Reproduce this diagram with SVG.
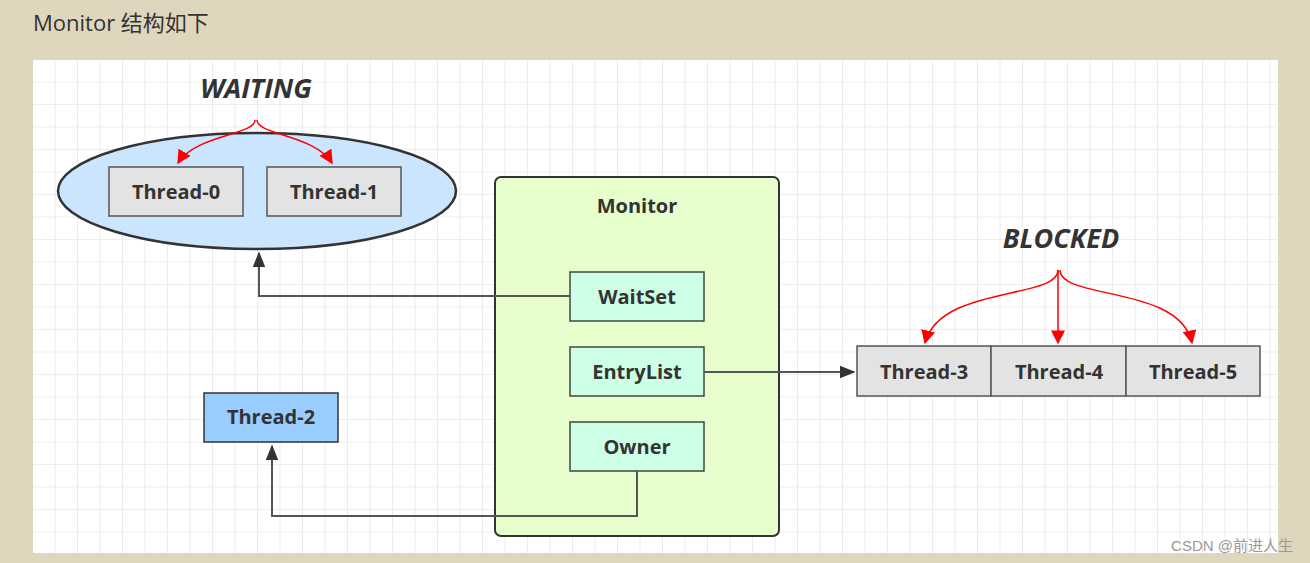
<svg xmlns="http://www.w3.org/2000/svg" width="1310" height="563" viewBox="0 0 1310 563">
<style>
.t{font-family:"Open Sans","Liberation Sans",sans-serif;font-weight:bold;font-size:20px;fill:#333;text-anchor:middle}
.s{font-family:"Open Sans","Liberation Sans",sans-serif;font-weight:bold;font-style:italic;font-size:27px;fill:#333;text-anchor:middle}
.box{fill:#e3e3e3;stroke:#555;stroke-width:1.5}
.in{fill:#ccffe6;stroke:#444;stroke-width:1.5}
.red{fill:none;stroke:#f00;stroke-width:1.5}
.blk{fill:none;stroke:#555;stroke-width:2}
</style>
<defs>
<pattern id="g" width="22.5" height="22.5" patternUnits="userSpaceOnUse" x="33" y="60">
<path d="M22.5 0V22.5H0" fill="none" stroke="#dedede" stroke-width="1.2"/>
</pattern>
<marker id="ar" viewBox="0 0 10 10" refX="9" refY="5" markerWidth="14" markerHeight="14" markerUnits="userSpaceOnUse" orient="auto"><path d="M0 0L10 5L0 10z" fill="#f00"/></marker>
<marker id="ab" viewBox="0 0 10 10" refX="9" refY="5" markerWidth="16" markerHeight="16" markerUnits="userSpaceOnUse" orient="auto"><path d="M0 1L10 5L0 9z" fill="#333"/></marker>
</defs>
<rect width="1310" height="563" fill="#dfd7bd"/>
<text x="33" y="31" font-family="'Open Sans','Noto Sans CJK SC',sans-serif" font-size="22" fill="#333">Monitor 结构如下</text>
<rect x="33" y="60" width="1245" height="493" fill="#fff"/>
<rect x="33" y="60" width="1245" height="493" fill="url(#g)"/>
<g id="monitor"><rect x="495" y="177" width="284" height="359" rx="6" fill="#e6ffcc" stroke="#333" stroke-width="2"/><text class="t" x="637" y="213">Monitor</text></g>
<g id="waitset"><rect class="in" x="570" y="272" width="134" height="49"/><text class="t" x="637" y="304">WaitSet</text></g>
<g id="entrylist"><rect class="in" x="570" y="347" width="134" height="49"/><text class="t" x="637" y="379">EntryList</text></g>
<g id="owner"><rect class="in" x="570" y="422" width="134" height="49"/><text class="t" x="637" y="454">Owner</text></g>
<g id="waiting"><ellipse cx="257" cy="191" rx="199" ry="58" fill="#cce5ff" stroke="#333" stroke-width="2.5"/><text class="s" x="256" y="98">WAITING</text></g>
<g id="thread0"><rect class="box" x="109" y="167" width="134" height="49"/><text class="t" x="176" y="199">Thread-0</text></g>
<g id="thread1"><rect class="box" x="267" y="167" width="134" height="49"/><text class="t" x="334" y="199">Thread-1</text></g>
<g id="thread2"><rect x="204" y="393" width="134" height="49" fill="#99ccff" stroke="#333" stroke-width="1.5"/><text class="t" x="271" y="424">Thread-2</text></g>
<g id="blocked"><text class="s" x="1061" y="248">BLOCKED</text></g>
<g id="thread3"><rect class="box" x="857" y="346" width="134" height="50"/><text class="t" x="924" y="379">Thread-3</text></g>
<g id="thread4"><rect class="box" x="991" y="346" width="135" height="50"/><text class="t" x="1059" y="379">Thread-4</text></g>
<g id="thread5"><rect class="box" x="1126" y="346" width="134" height="50"/><text class="t" x="1193" y="379">Thread-5</text></g>
<g id="connectors">
<path class="red" d="M255 120C255 135 195 135 178 163" marker-end="url(#ar)"/>
<path class="red" d="M257 120C257 135 315 135 332 163" marker-end="url(#ar)"/>
<path class="red" d="M1058 270C1058 300 940 285 925 343" marker-end="url(#ar)"/>
<path class="red" d="M1058 270V343" marker-end="url(#ar)"/>
<path class="red" d="M1060 270C1060 300 1180 285 1192 343" marker-end="url(#ar)"/>
<path class="blk" d="M570 296H259V253" marker-end="url(#ab)"/>
<path class="blk" d="M704 372H854" marker-end="url(#ab)"/>
<path class="blk" d="M637 471V516H272V446" marker-end="url(#ab)"/>
</g>
<text x="1293" y="551" font-family="'Liberation Sans','Noto Sans CJK SC',sans-serif" font-size="15" fill="#999" text-anchor="end">CSDN @前进人生</text>
</svg>
